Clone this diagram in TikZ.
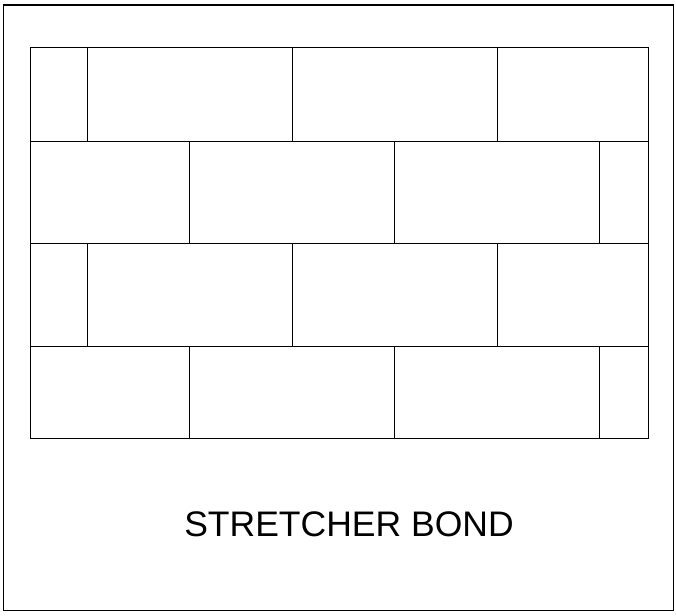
\documentclass[tikz,border=0pt]{standalone}
\usepackage{fontspec}
\setmainfont{Liberation Sans}
\usepackage{tikz}
\usetikzlibrary{positioning}

\begin{document}
\begin{tikzpicture}[x=1pt, y=-1pt, line width=1pt]
    % Styles
    \tikzset{
        frame/.style={draw=black, line width=1.1pt},
        brick/.style={draw=black, line width=0.9pt},
        caption/.style={font=\fontsize{35.5}{40}\selectfont, inner sep=0pt}
    }
    \useasboundingbox (0,0) rectangle (676,615);
    % Outer frame
    \draw[frame] (3.5,5) rectangle (673.5,610.5);
    % Wall outline
    \draw[brick] (30,47) rectangle (648,438.5);
    % Bed joints
    \draw[brick] (30,141) -- (648,141);
    \draw[brick] (30,243) -- (648,243);
    \draw[brick] (30,346) -- (648,346);
    % Head joints, odd courses
    \foreach \y/\yy in {47/141, 243/346}
        \foreach \x in {87.5, 292.5, 497.5}
            \draw[brick] (\x,\y) -- (\x,\yy);
    % Head joints, even courses
    \foreach \y/\yy in {141/243, 346/438.5}
        \foreach \x in {189.5, 394.5, 599.5}
            \draw[brick] (\x,\y) -- (\x,\yy);
    % Caption
    \node (title) [caption] at (349,524.5) {STRETCHER BOND};
\end{tikzpicture}
\end{document}
